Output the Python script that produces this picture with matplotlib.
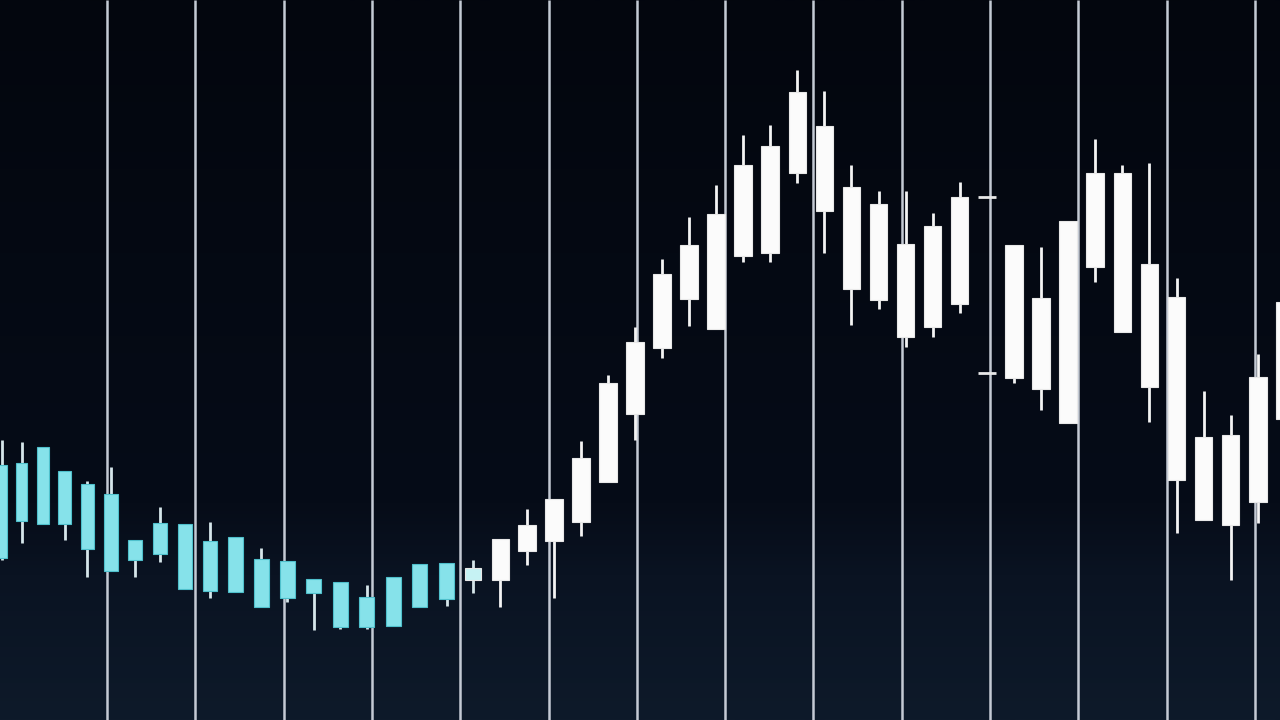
import numpy as np
import matplotlib
matplotlib.use("Agg")
import matplotlib.pyplot as plt
from matplotlib.colors import LinearSegmentedColormap

# candle values (price units), one entry per candle, left to right
body_hi = [255, 257, 273, 249, 236, 226, 180, 197, 196, 179, 183, 161, 159, 141, 138,
           123, 143, 156, 157, 152, 181, 195, 221, 262, 337, 378, 446, 475, 506, 555,
           574, 628, 594, 533, 516, 476, 494, 523, 523, 475, 422, 499, 547, 547, 456,
           423, 283, 285, 343, 418]
body_lo = [162, 199, 196, 196, 171, 149, 160, 166, 131, 129, 128, 113, 122, 127, 93,
           93, 94, 113, 121, 140, 140, 169, 179, 198, 238, 306, 372, 421, 391, 464,
           467, 547, 509, 431, 420, 383, 393, 416, 347, 342, 331, 297, 453, 388, 333,
           240, 200, 195, 218, 301]
highs = [280, 278, 273, 249, 239, 253, 180, 213, 196, 198, 183, 172, 159, 141, 138,
         135, 143, 156, 157, 160, 181, 211, 221, 279, 345, 393, 461, 503, 535, 585,
         595, 650, 629, 555, 529, 529, 507, 538, 523, 475, 473, 499, 581, 555, 557,
         442, 329, 305, 366, 418]
lows = [160, 177, 196, 180, 143, 149, 143, 158, 131, 122, 128, 113, 118, 90, 91,
        91, 94, 113, 114, 127, 113, 155, 122, 184, 238, 280, 362, 394, 391, 458,
        458, 537, 467, 395, 411, 373, 383, 407, 347, 337, 310, 297, 438, 388, 298,
        187, 200, 140, 197, 301]

n_cyan = 19          # first candles drawn in cyan
fade_candle = 19     # half cyan / half white
tick_candle = 38     # drawn only as open/close ticks

W, H = 1280, 720


# the chart is seen slightly in perspective: candles on the left sit closer together
def fwd(i):
    i = np.asarray(i, dtype=float)
    return 27.1 * i - 45 * (1 - np.exp(-i / 5.6))

_grid = np.linspace(-5, 70, 4000)


def inv(p):
    return np.interp(p, fwd(_grid), _grid)


fig = plt.figure(figsize=(W / 100, H / 100), dpi=100)
fig.patch.set_facecolor("#04080f")

# background: dark gradient + vertical lines
bg = fig.add_axes([0, 0, 1, 1])
bg_cmap = LinearSegmentedColormap.from_list(
    "bg", [(0, "#0e1a2a"), (0.2, "#0a1322"), (0.3, "#060c18"), (1, "#03060e")])
grad = np.linspace(0, 1, 256).reshape(-1, 1)
bg.imshow(grad, aspect="auto", cmap=bg_cmap, origin="lower", extent=[0, W, 0, H])
grid_x = np.arange(107, W, 88.3)
bg.vlines(grid_x, 0, H, colors="#c4cad4", linewidth=1.8)
bg.set_xlim(0, W)
bg.set_ylim(0, H)
bg.axis("off")

ax = fig.add_axes([0, 0, 1, 1])
ax.patch.set_alpha(0)
ax.set_xscale("function", functions=(fwd, inv))

x = np.arange(len(body_hi))
hi = np.array(body_hi)
lo = np.array(body_lo)

colors = []
widths = []
for i in x:
    if i < n_cyan:
        colors.append("#86e2ea")
        widths.append(0.56)
    elif i == fade_candle:
        colors.append("#c6f2f4")
        widths.append(0.6)
    else:
        colors.append("#fbfbfb")
        widths.append(0.645)

wick_cols = ["#d6e6ea" if i <= fade_candle else "#f4f4f4" for i in x]
mask = x != tick_candle

ax.vlines(x[mask], np.array(lows)[mask], np.array(highs)[mask],
          colors=[c for c, m in zip(wick_cols, mask) if m], linewidth=2, zorder=2)
edge = ["#4fc0cc" if i < n_cyan else "#e8e8e8" for i in x]
ax.bar(x[mask], (hi - lo)[mask], bottom=lo[mask], width=np.array(widths)[mask],
       color=[c for c, m in zip(colors, mask) if m],
       edgecolor=[c for c, m in zip(edge, mask) if m], linewidth=0.8, zorder=3)

# the odd bar sitting on a grid line: just its open/close ticks
t = tick_candle
ax.hlines([body_hi[t], body_lo[t]], t - 0.32, t + 0.32, colors="#e8e8e8", linewidth=2, zorder=3)

ax.set_xlim(inv(-2), inv(W - 2))
ax.set_ylim(0, H)
ax.axis("off")

fig.savefig("out.png", dpi=100, facecolor=fig.get_facecolor())
